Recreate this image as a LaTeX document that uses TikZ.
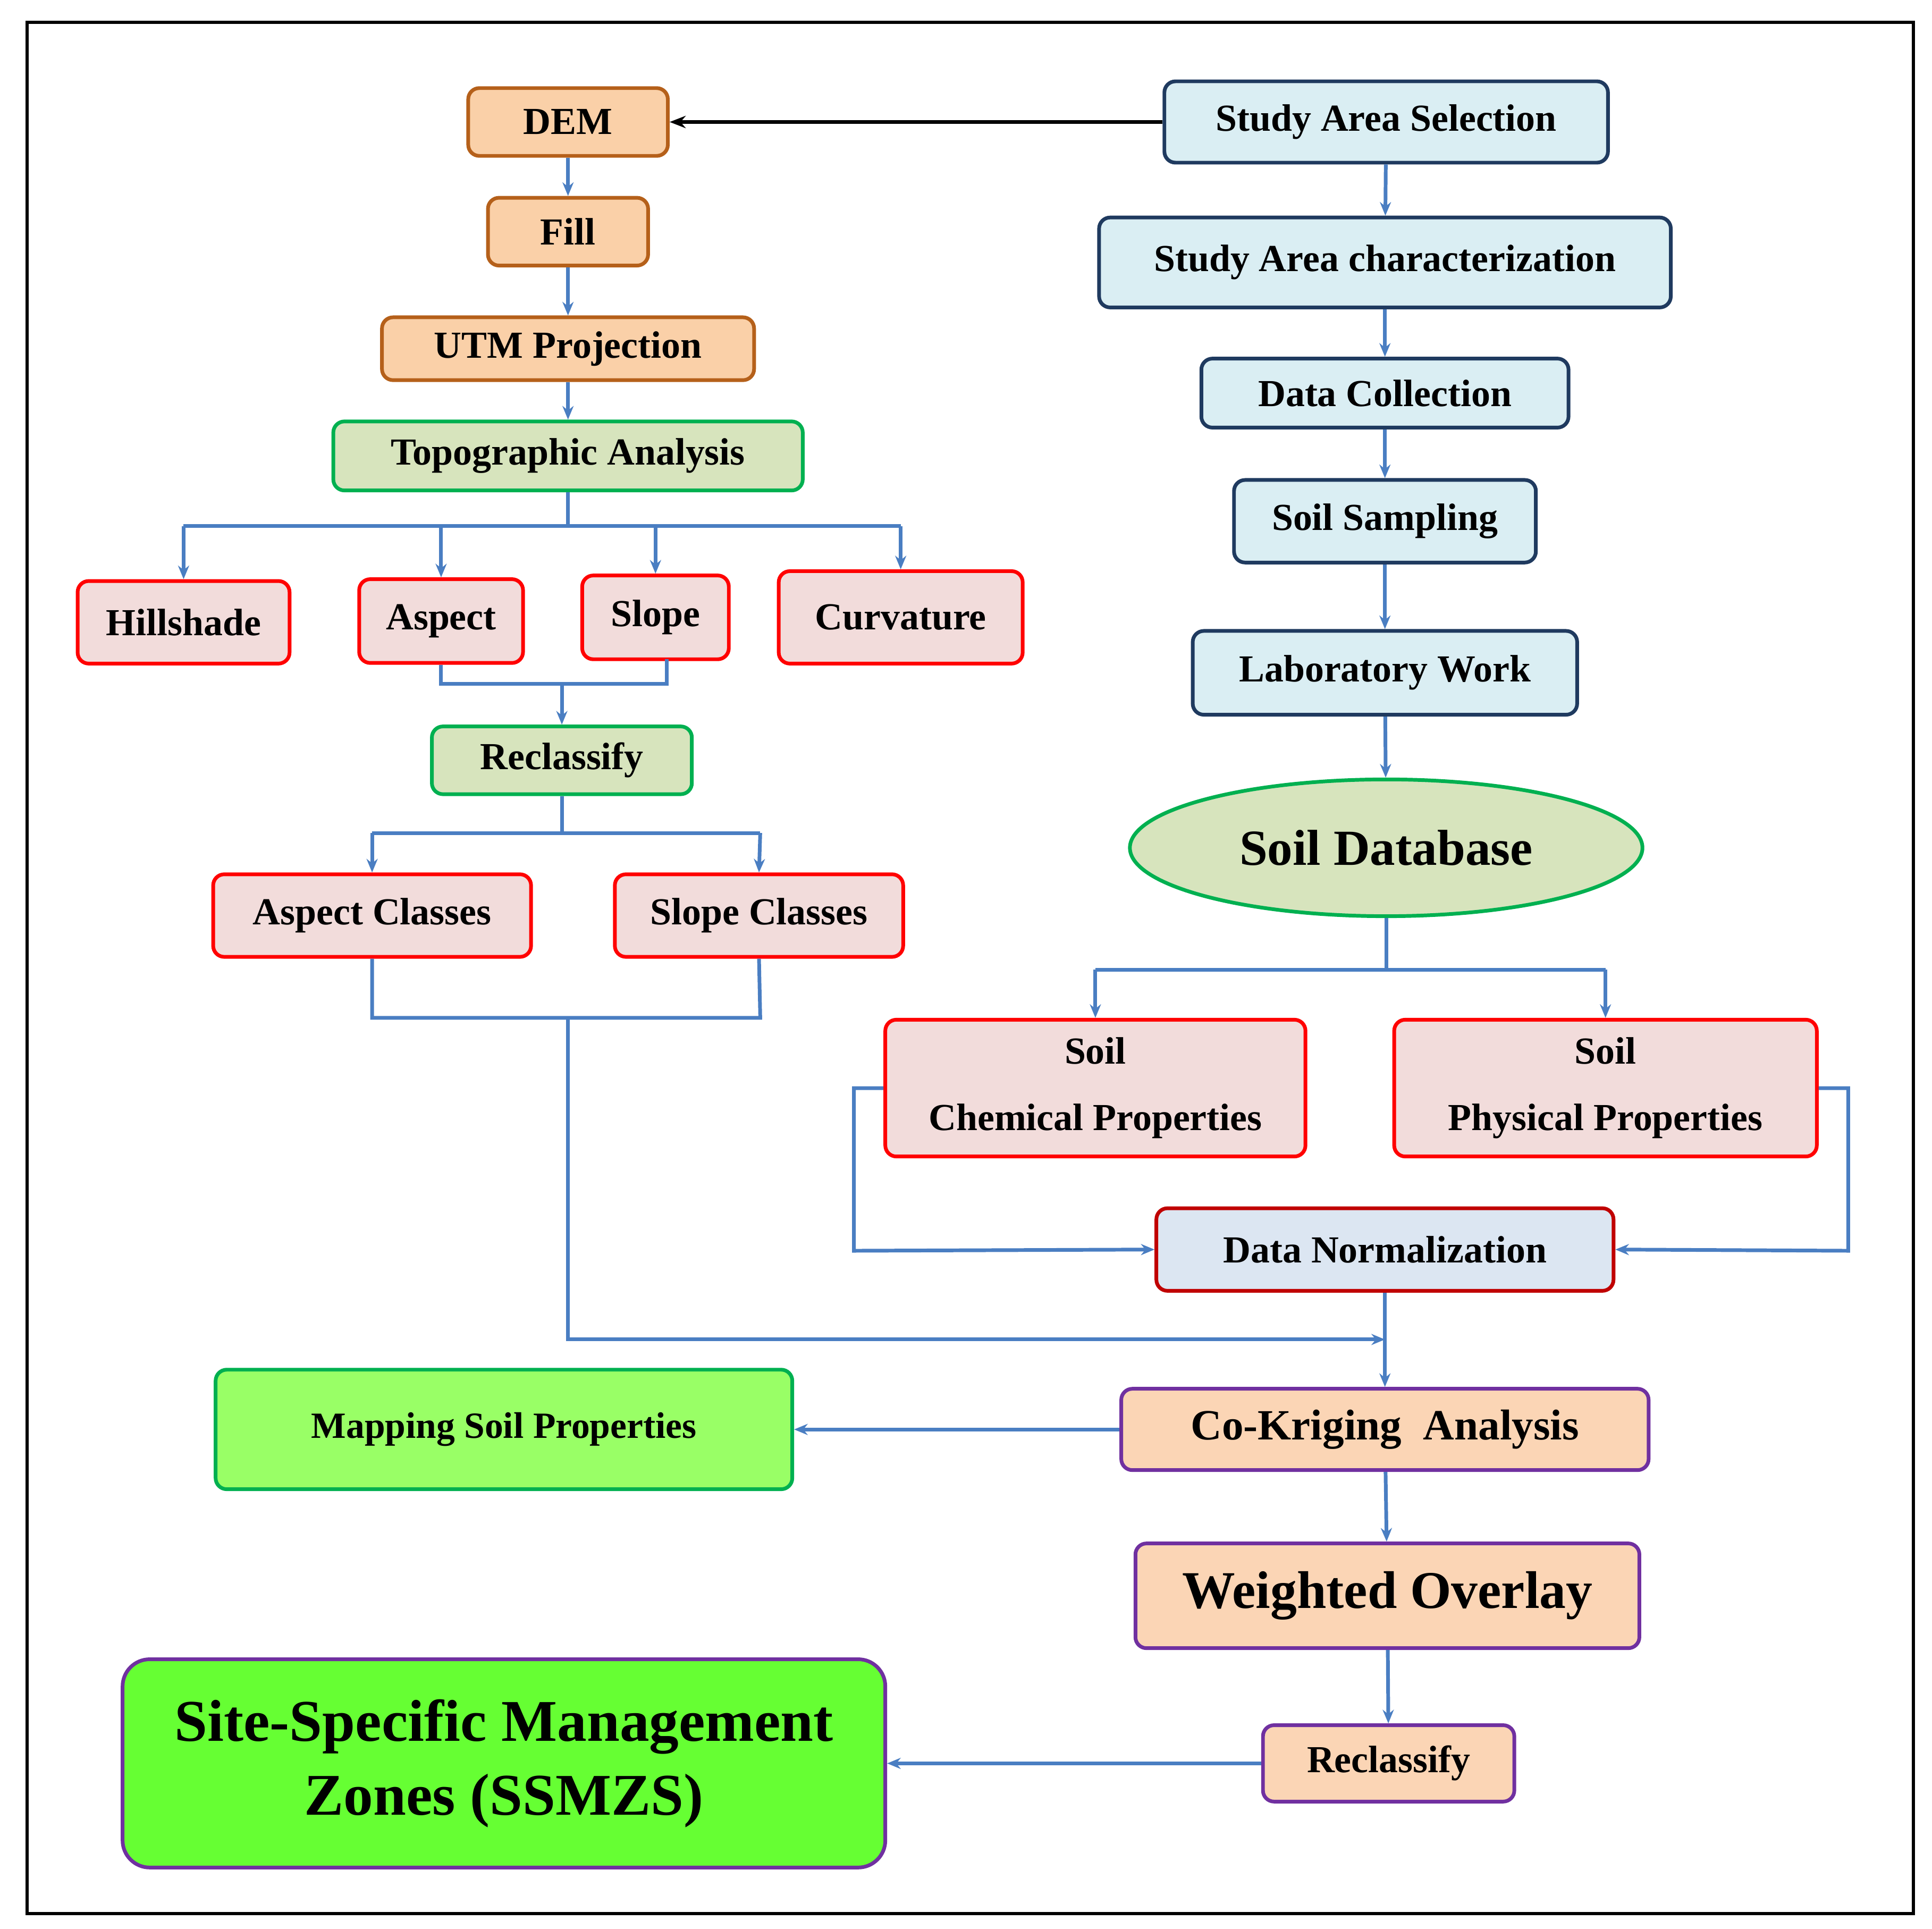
\documentclass[tikz,border=0pt]{standalone}
\usepackage{fontspec}
\setmainfont{Liberation Serif}
\usetikzlibrary{arrows.meta,shapes.geometric}
\definecolor{orfill}{HTML}{FAD0A8}
\definecolor{ordraw}{HTML}{B5601A}
\definecolor{grfill}{HTML}{D7E4BD}
\definecolor{grdraw}{HTML}{00B050}
\definecolor{rdfill}{HTML}{F2DCDB}
\definecolor{bufill}{HTML}{DAEEF3}
\definecolor{budraw}{HTML}{1F3A5F}
\definecolor{pkfill}{HTML}{FBD5B5}
\definecolor{pudraw}{HTML}{7030A0}
\definecolor{flow}{HTML}{4A7EC2}
\definecolor{mapfill}{HTML}{99FF66}
\definecolor{zonefill}{HTML}{66FF33}
\definecolor{normfill}{HTML}{DCE6F2}
\definecolor{normdraw}{HTML}{C00000}
\tikzset{every picture/.style={line width=3pt}}
\tikzset{
  box/.style={rounded corners=9pt, line width=3pt, inner sep=0pt, align=center,
    font=\fontsize{31}{40}\selectfont\bfseries},
  dem/.style={box, fill=orfill, draw=ordraw},
  topo/.style={box, fill=grfill, draw=grdraw},
  deriv/.style={box, fill=rdfill, draw=red},
  field/.style={box, fill=bufill, draw=budraw},
  final/.style={box, fill=pkfill, draw=pudraw},
  link/.style={draw=flow, line width=3pt, -{Stealth[length=11pt,width=9pt]}},
  plain/.style={draw=flow, line width=3pt}
}
\begin{document}
\begin{tikzpicture}[x=1pt,y=1pt,yscale=-1]
\useasboundingbox (0,0) rectangle (1568,1565);
\draw[line width=2.5pt] (22,18) rectangle (1553,1553);

% left column
\node[dem, minimum width=162pt, minimum height=55pt] (dem) at (461,99) {DEM};
\node[dem, minimum width=130pt, minimum height=55pt] (fill) at (461,188) {Fill};
\node[dem, minimum width=302pt, minimum height=51pt] (utm) at (461,283) {UTM Projection};
\node[topo, minimum width=381pt, minimum height=56pt] (topo) at (461,370) {Topographic Analysis};
\node[deriv, minimum width=172pt, minimum height=67pt] (hill) at (149,505) {Hillshade};
\node[deriv, minimum width=133pt, minimum height=68pt] (aspect) at (358,504) {Aspect};
\node[deriv, minimum width=119pt, minimum height=68pt] (slope) at (532,501) {Slope};
\node[deriv, minimum width=198pt, minimum height=75pt] (curv) at (731,501) {Curvature};
\node[topo, minimum width=211pt, minimum height=55pt] (recl) at (456,617) {Reclassify};
\node[deriv, minimum width=258pt, minimum height=67pt] (aspcl) at (302,743) {Aspect Classes};
\node[deriv, minimum width=234pt, minimum height=67pt] (slpcl) at (616,743) {Slope Classes};
\node[box, fill=mapfill, draw=grdraw, minimum width=468pt, minimum height=97pt,
  font=\fontsize{30}{38}\selectfont\bfseries] (map) at (409,1160) {Mapping Soil Properties};
\node[box, fill=zonefill, draw=pudraw, rounded corners=22pt,
  minimum width=619pt, minimum height=169pt, font=\fontsize{48}{60}\selectfont\bfseries] (ssmz) at (409,1431)
  {Site-Specific Management\\Zones (SSMZS)};

% right column
\node[field, minimum width=360pt, minimum height=66pt] (sel) at (1125,99) {Study Area Selection};
\node[field, minimum width=464pt, minimum height=73pt] (char) at (1124,213) {Study Area characterization};
\node[field, minimum width=298pt, minimum height=56pt] (coll) at (1124,319) {Data Collection};
\node[field, minimum width=245pt, minimum height=67pt] (samp) at (1124,423) {Soil Sampling};
\node[field, minimum width=312pt, minimum height=68pt] (lab) at (1124,546) {Laboratory Work};
\node[ellipse, draw=grdraw, fill=grfill, line width=3pt, inner sep=0pt, minimum width=416pt, minimum height=111pt,
  font=\fontsize{41}{50}\selectfont\bfseries] (sdb) at (1125,688) {Soil Database};
\node[deriv, minimum width=341pt, minimum height=111pt, font=\fontsize{31}{54}\selectfont\bfseries] (chem) at (889,883) {Soil\\Chemical Properties};
\node[deriv, minimum width=343pt, minimum height=111pt, font=\fontsize{31}{54}\selectfont\bfseries] (phys) at (1303,883) {Soil\\Physical Properties};
\node[box, fill=normfill, draw=normdraw, minimum width=371pt, minimum height=67pt] (norm) at (1124,1014) {Data Normalization};
\node[final, minimum width=428pt, minimum height=66pt, font=\fontsize{35}{42}\selectfont\bfseries] (krig) at (1124,1160) {Co-Kriging\ \ Analysis};
\node[final, minimum width=409pt, minimum height=85pt, font=\fontsize{43}{50}\selectfont\bfseries] (wov) at (1126,1295) {Weighted Overlay};
\node[final, minimum width=204pt, minimum height=62pt] (recl2) at (1127,1431) {Reclassify};

% connections
\draw[line width=3pt, -{Stealth[length=13pt,width=10pt]}] (sel.west) -- (dem.east);
\draw[link] (dem) -- (fill);
\draw[link] (fill) -- (utm);
\draw[link] (utm) -- (topo);
\draw[plain] (topo.south) -- (461,427);
\draw[plain] (149,427) -- (731,427);
\foreach \n in {hill,aspect,slope,curv}
  \draw[link] (\n.north |- 0,427) -- (\n.north);
\draw[plain] (aspect.south) -- (aspect.south |- 0,555) -- (541,555) -- (541,535);
\draw[link] (456,555) -- (recl.north);
\draw[plain] (recl.south) -- (456,676);
\draw[plain] (302,676) -- (617,676);
\draw[link] (302,676) -- (aspcl.north);
\draw[link] (617,676) -- (slpcl.north);
\draw[plain] (aspcl.south) -- (302,826) -- (617,826) -- (slpcl.south);
\coordinate (join) at (1124,1087);
\draw[link] (461,826) -- (461,1087) -- (join);

\draw[link] (sel) -- (char);
\draw[link] (char) -- (coll);
\draw[link] (coll) -- (samp);
\draw[link] (samp) -- (lab);
\draw[link] (lab) -- (sdb);
\draw[plain] (sdb.south) -- (1125,787);
\draw[plain] (889,787) -- (1303,787);
\draw[link] (889,787) -- (chem.north);
\draw[link] (1303,787) -- (phys.north);
\draw[link] (chem.west) -- (693,883) -- (693,1015) -- (norm.west);
\draw[link] (phys.east) -- (1500,883) -- (1500,1015) -- (norm.east);
\draw[link] (norm) -- (krig);
\draw[link] (krig) -- (map);
\draw[link] (krig) -- (wov);
\draw[link] (wov) -- (recl2);
\draw[link] (recl2) -- (ssmz);
\end{tikzpicture}
\end{document}
